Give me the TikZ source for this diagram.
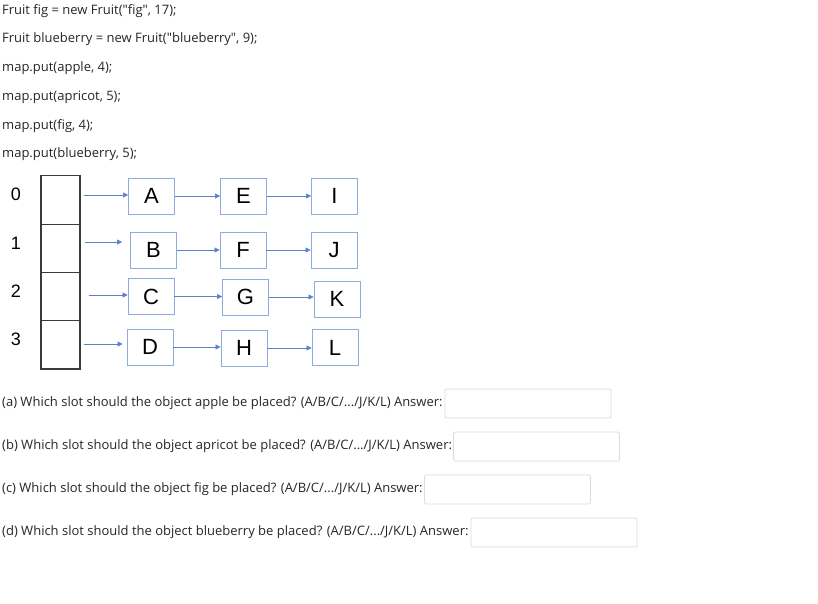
\documentclass[tikz,border=0pt]{standalone}
\usepackage{fontspec}
\setmainfont{Open Sans}
\newfontfamily\boxfont{Liberation Sans}
\usetikzlibrary{arrows.meta,positioning}

\definecolor{linkblue}{HTML}{5B7FC8}
\definecolor{boxblue}{HTML}{8FAADC}
\definecolor{slotgray}{HTML}{3A3A3A}
\definecolor{fieldgray}{HTML}{DCDCDC}

\tikzset{
  code/.style={anchor=base west, inner sep=0pt, font=\fontsize{13}{15}\selectfont, text=black!85},
  slot/.style={draw=slotgray, line width=1.2pt, minimum width=39pt, minimum height=48.3pt, inner sep=0pt},
  idx/.style={font=\boxfont\fontsize{18}{20}\selectfont},
  elem/.style={draw=boxblue, line width=0.9pt, minimum width=46pt, minimum height=36pt, inner sep=0pt, font=\boxfont\fontsize{22}{24}\selectfont},
  link/.style={-{Triangle[length=5pt,width=5pt]}, draw=linkblue, line width=0.6pt},
  field/.style={draw=fieldgray, line width=0.8pt, rounded corners=2pt, minimum width=166pt, minimum height=29pt, inner sep=0pt}
}

\begin{document}
\begin{tikzpicture}[x=1pt, y=-1pt]
    \useasboundingbox[fill=white] (0,0) rectangle (818,603);

    % code lines
    \node[code] (l1) at (2,14) {Fruit fig = new Fruit(\textquotedbl fig\textquotedbl, 17);};
    \node[code] (l2) at (2,42.5) {Fruit blueberry = new Fruit(\textquotedbl blueberry\textquotedbl, 9);};
    \node[code] (l3) at (2,71.5) {map.put(apple, 4);};
    \node[code] (l4) at (2,100) {map.put(apricot, 5);};
    \node[code] (l5) at (2,129) {map.put(fig, 4);};
    \node[code] (l6) at (2,157.5) {map.put(blueberry, 5);};

    % hash table
    \node[slot] (s0) at (60.5,200) {};
    \node[slot] (s1) at (60.5,248.3) {};
    \node[slot] (s2) at (60.5,296.6) {};
    \node[slot] (s3) at (60.5,344.9) {};
    \node[idx] (n0) at (16,194) {0};
    \node[idx] (n1) at (16,243) {1};
    \node[idx] (n2) at (16,291) {2};
    \node[idx] (n3) at (16,339) {3};

    % chains
    \node[elem] (A) at (151.5,196) {A};
    \node[elem] (E) at (243.5,196) {E};
    \node[elem] (I) at (334.5,196) {I};
    \node[elem] (B) at (153.5,250) {B};
    \node[elem] (F) at (243,250) {F};
    \node[elem] (J) at (334,250) {J};
    \node[elem] (C) at (151,296.5) {C};
    \node[elem] (G) at (245.5,297) {G};
    \node[elem] (K) at (337,299) {K};
    \node[elem] (D) at (150,347) {D};
    \node[elem] (H) at (244,348) {H};
    \node[elem] (L) at (335,347.5) {L};

    \coordinate (p0) at (84,195);
    \coordinate (p1) at (85,242);
    \coordinate (p2) at (89,295);
    \coordinate (p3) at (84,344);

    \draw[link] (p0) -- (p0 -| A.west);
    \draw[link] (p1) -- ([xshift=-8pt]p1 -| B.west);
    \draw[link] (p2) -- (p2 -| C.west);
    \draw[link] (p3) -- ([xshift=-4pt]p3 -| D.west);

    \draw[link] (A) -- (E);
    \draw[link] (E) -- (I);
    \draw[link] (B) -- (F);
    \draw[link] (F) -- (J);
    \draw[link] (C.east) -- (C.east -| G.west);
    \draw[link] (G.east) -- (G.east -| K.west);
    \draw[link] (D.east) -- (D.east -| H.west);
    \draw[link] (H.east) -- (H.east -| L.west);

    % questions
    \node[code] (qa) at (2,406.5) {(a) Which slot should the object apple be placed? (A/B/C/.../J/K/L) Answer:};
    \node[code] (qb) at (2,449.5) {(b) Which slot should the object apricot be placed? (A/B/C/.../J/K/L) Answer:};
    \node[code] (qc) at (2,492.5) {(c) Which slot should the object fig be placed? (A/B/C/.../J/K/L) Answer:};
    \node[code] (qd) at (2,535.5) {(d) Which slot should the object blueberry be placed? (A/B/C/.../J/K/L) Answer:};

    \node[field] (fa) at (528,403.5) {};
    \node[field] (fb) at (536.5,446.5) {};
    \node[field] (fc) at (507.5,489.5) {};
    \node[field] (fd) at (554,532.5) {};
  \end{tikzpicture}
\end{document}
